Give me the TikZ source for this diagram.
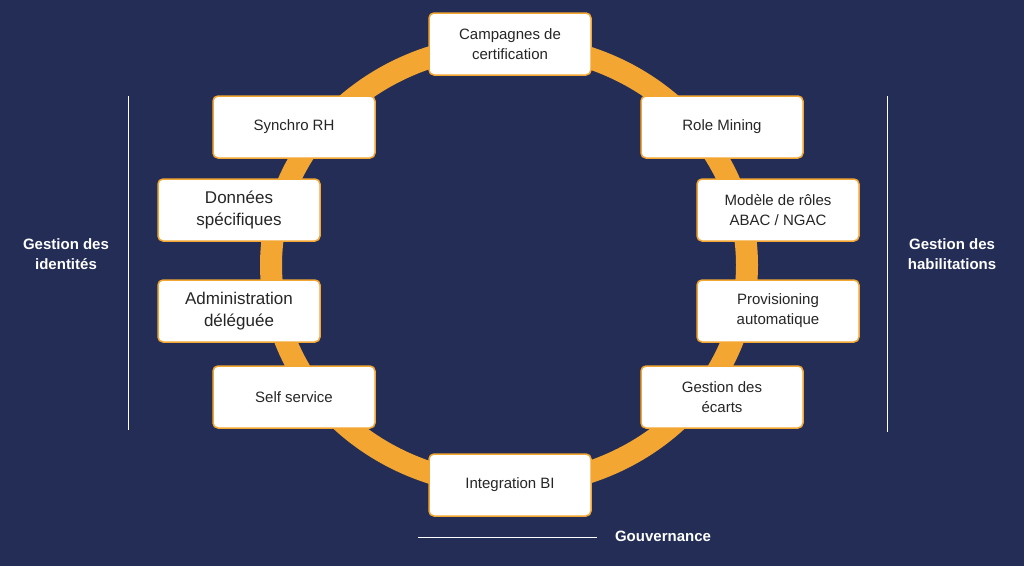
\documentclass[tikz,border=0pt]{standalone}
\usepackage{fontspec}
\setmainfont{Liberation Sans}
\definecolor{bg}{HTML}{232D55}
\definecolor{ring}{HTML}{F3A632}
\begin{document}
\begin{tikzpicture}[x=1pt,y=-1pt,
  box/.style={draw=ring,line width=1.5pt,fill=white,rounded corners=5pt,minimum width=162pt,minimum height=62pt,align=center,font=\fontsize{15}{20}\selectfont,text=black!85},
  big/.style={font=\fontsize{17}{22}\selectfont},
  lbl/.style={text=white,font=\bfseries\fontsize{15}{20}\selectfont,align=center},
  sep/.style={draw=white,line width=1pt}]
\fill[bg] (0,0) rectangle (1024,566);
\draw[ring,line width=22pt] (509,265) ellipse [x radius=238, y radius=220];
\node[box] (c) at (510,44) {Campagnes de\\certification};
\node[box] (s) at (294,127) {Synchro RH};
\node[box,big] (d) at (239,210) {Données\\spécifiques};
\node[box,big] (a) at (239,311) {Administration\\déléguée};
\node[box] (ss) at (294,397) {Self service};
\node[box] (bi) at (510,485) {Integration BI};
\node[box] (rm) at (722,127) {Role Mining};
\node[box] (m) at (778,210) {Modèle de rôles\\ABAC / NGAC};
\node[box] (p) at (778,311) {Provisioning\\automatique};
\node[box] (g) at (722,397) {Gestion des\\écarts};
\coordinate (l1) at (128,96); \coordinate (l2) at (128,430);
\coordinate (r1) at (887,96); \coordinate (r2) at (887,432);
\coordinate (h1) at (418,537); \coordinate (h2) at (597,537);
\draw[sep] (l1) -- (l2);
\draw[sep] (r1) -- (r2);
\draw[sep] (h1) -- (h2);
\node[lbl] (gi) at (66,254) {Gestion des\\identités};
\node[lbl] (gh) at (952,254) {Gestion des\\habilitations};
\node[lbl] (gv) at (663,536) {Gouvernance};
\end{tikzpicture}
\end{document}
